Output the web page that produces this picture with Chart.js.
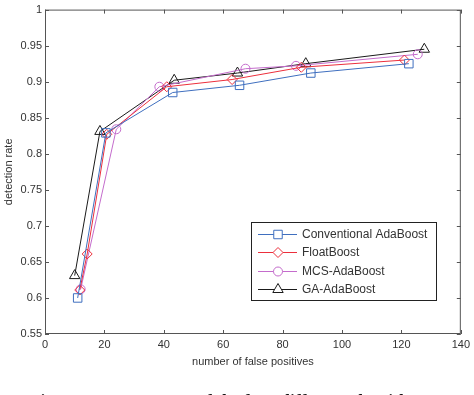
<!DOCTYPE html>
<html>
<head>
<meta charset="utf-8">
<script src="https://cdn.jsdelivr.net/npm/chart.js@4/dist/chart.umd.min.js"></script>
<style>
  body { margin: 0; background: #fff; }
  #wrap { width: 474px; height: 395px; position: relative; }
</style>
</head>
<body>
<div id="wrap"><canvas id="rocChart"></canvas></div>
<script>
// series values
const seriesNames = ['Conventional AdaBoost', 'FloatBoost', 'MCS-AdaBoost', 'GA-AdaBoost'];

const convX = [11, 20.5, 43, 65.5, 89.5, 122.5];
const convY = [0.600, 0.829, 0.885, 0.895, 0.912, 0.925];

const floatX = [11.7, 14.2, 20.8, 41, 63, 86.3, 121];
const floatY = [0.611, 0.661, 0.827, 0.893, 0.903, 0.920, 0.930];

const mcsX = [12, 24, 38.5, 67.5, 84.5, 125.5];
const mcsY = [0.612, 0.834, 0.893, 0.918, 0.922, 0.938];

const gaX = [10, 18.5, 43.5, 64.8, 87.8, 127.7];
const gaY = [0.631, 0.831, 0.902, 0.912, 0.925, 0.945];

const xTicks = [0, 20, 40, 60, 80, 100, 120, 140];
const yTicks = [0.55, 0.6, 0.65, 0.7, 0.75, 0.8, 0.85, 0.9, 0.95, 1];

const captionText = 'Figure 1. ROC curves of the four different algorithms';

function toPoints(xs, ys) {
    return xs.map((x, i) => ({ x: x, y: ys[i] }));
}

function makeSet(label, xs, ys, color, style, radius) {
    return {
        label: label,
        data: toPoints(xs, ys),
        borderColor: color,
        backgroundColor: 'rgba(0,0,0,0)',
        pointBorderColor: color,
        pointBackgroundColor: 'rgba(0,0,0,0)',
        pointStyle: style,
        pointRadius: radius,
        pointBorderWidth: 1,
        borderWidth: 1,
        showLine: true,
        tension: 0,
    };
}

const datasets = [
    makeSet(seriesNames[0], convX, convY, '#3f6fbf', 'rect', 6),
    makeSet(seriesNames[1], floatX, floatY, '#ec2f3c', 'rectRot', 5),
    makeSet(seriesNames[2], mcsX, mcsY, '#c46ccc', 'circle', 4.5),
    makeSet(seriesNames[3], gaX, gaY, '#1a1a1a', 'triangle', 6),
];

const axisColor = '#555';
const textColor = '#333';

// MATLAB-ish frame: full box, inward ticks, legend in the lower right, cut-off caption
const framePlugin = {
    id: 'frame',
    afterDraw(chart) {
        const ctx = chart.ctx;
        const a = chart.chartArea;
        const sx = chart.scales.x;
        const sy = chart.scales.y;
        ctx.save();
        ctx.strokeStyle = axisColor;
        ctx.lineWidth = 1;
        ctx.strokeRect(a.left + 0.5, a.top + 0.5, a.right - a.left - 1, a.bottom - a.top - 1);
        ctx.beginPath();
        const tl = 4;
        xTicks.forEach((v) => {
            const px = Math.round(sx.getPixelForValue(v)) + 0.5;
            ctx.moveTo(px, a.bottom);
            ctx.lineTo(px, a.bottom - tl);
            ctx.moveTo(px, a.top);
            ctx.lineTo(px, a.top + tl);
        });
        yTicks.forEach((v) => {
            const py = Math.round(sy.getPixelForValue(v)) + 0.5;
            ctx.moveTo(a.left, py);
            ctx.lineTo(a.left + tl, py);
            ctx.moveTo(a.right, py);
            ctx.lineTo(a.right - tl, py);
        });
        ctx.stroke();

        // legend box
        const lx = 251, ly = 222, lw = 185, lh = 78;
        ctx.fillStyle = '#fff';
        ctx.fillRect(lx, ly, lw, lh);
        ctx.strokeStyle = '#222';
        ctx.strokeRect(lx + 0.5, ly + 0.5, lw, lh);
        ctx.font = '12px "Liberation Sans", Arial, sans-serif';
        ctx.textBaseline = 'middle';
        ctx.textAlign = 'left';
        chart.data.datasets.forEach((ds, i) => {
            const y = Math.round(ly + 11.5 + i * 18.6) + 0.5;
            ctx.strokeStyle = ds.borderColor;
            ctx.lineWidth = 1;
            ctx.beginPath();
            ctx.moveTo(lx + 7, y);
            ctx.lineTo(lx + 46, y);
            ctx.stroke();
            ctx.fillStyle = '#fff';
            Chart.helpers.drawPoint(ctx, {
                pointStyle: ds.pointStyle,
                radius: ds.pointRadius,
                rotation: 0,
                borderWidth: 1,
            }, lx + 27, y);
            ctx.fillStyle = textColor;
            ctx.fillText(ds.label, lx + 51, y + 0.5);
        });

        // caption under the figure, mostly cut off by the picture edge
        ctx.fillStyle = '#111';
        ctx.font = 'bold 17.5px "Liberation Serif", "Times New Roman", serif';
        ctx.textAlign = 'center';
        ctx.textBaseline = 'alphabetic';
        ctx.fillText(captionText, 230, 406);
        ctx.restore();
    }
};

const ctx = document.getElementById('rocChart').getContext('2d');

const config = {
    type: 'scatter',
    data: { datasets: datasets },
    plugins: [framePlugin],
    options: {
        responsive: true,
        maintainAspectRatio: false,
        animation: false,
        layout: {
            padding: { top: 5, right: 11, bottom: 0, left: 0 },
        },
        scales: {
            x: {
                type: 'linear',
                min: 0,
                max: 140,
                afterFit: (s) => { s.height = 61; },
                afterBuildTicks: (s) => { s.ticks = xTicks.map((v) => ({ value: v })); },
                grid: { display: false, drawTicks: false },
                border: { display: false },
                ticks: {
                    padding: 4,
                    color: textColor,
                    font: { family: '"Liberation Sans", Arial, sans-serif', size: 11 },
                    maxRotation: 0,
                },
                title: {
                    display: true,
                    text: 'number of false positives',
                    color: textColor,
                    font: { family: '"Liberation Sans", Arial, sans-serif', size: 11 },
                    padding: { top: 0, bottom: 26 },
                },
            },
            y: {
                type: 'linear',
                min: 0.55,
                max: 1,
                afterFit: (s) => { s.width = 45; },
                afterBuildTicks: (s) => { s.ticks = yTicks.map((v) => ({ value: v })); },
                grid: { display: false, drawTicks: false },
                border: { display: false },
                ticks: {
                    padding: 3,
                    color: textColor,
                    font: { family: '"Liberation Sans", Arial, sans-serif', size: 11 },
                    callback: (v) => String(Math.round(v * 100) / 100),
                },
                title: {
                    display: true,
                    text: 'detection rate',
                    color: textColor,
                    font: { family: '"Liberation Sans", Arial, sans-serif', size: 11 },
                    padding: { top: 2, bottom: 0 },
                },
            },
        },
        plugins: {
            legend: { display: false },
            tooltip: { enabled: false },
        },
    },
};

new Chart(ctx, config);
</script>
</body>
</html>
